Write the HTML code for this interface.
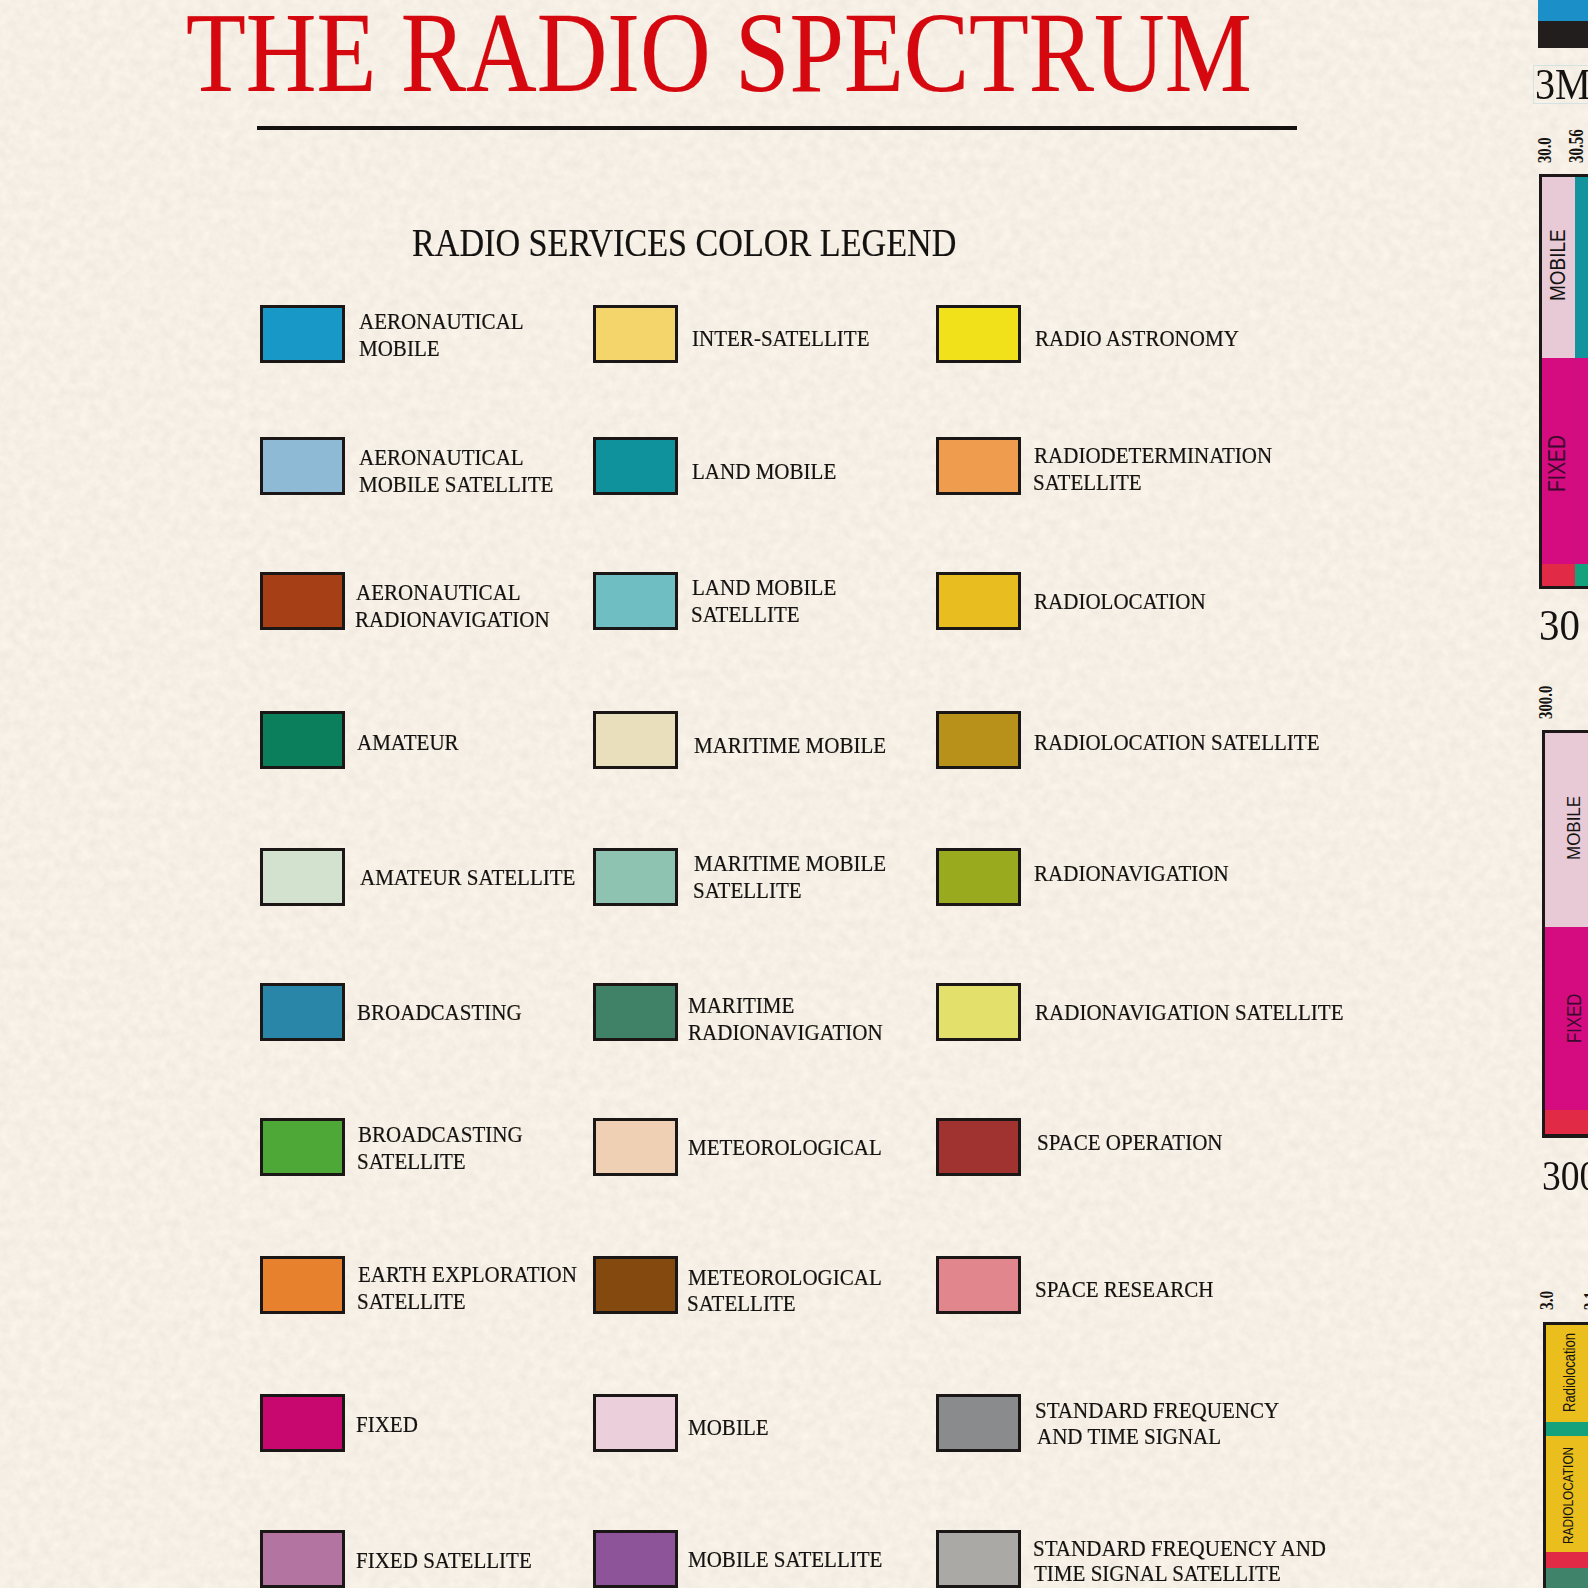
<!DOCTYPE html>
<html><head><meta charset="utf-8"><title>The Radio Spectrum</title>
<style>
html,body{margin:0;padding:0;}
body{width:1588px;height:1588px;overflow:hidden;position:relative;background:#f6efe5;font-family:"Liberation Serif",serif;}
.sw{position:absolute;width:85px;height:58px;box-sizing:border-box;border:3px solid #1a1716;}
.tex{position:absolute;left:0;top:0;pointer-events:none;}
.t{position:absolute;font-family:"Liberation Serif",serif;white-space:nowrap;transform-origin:0 0;-webkit-text-stroke:0.2px currentColor;}
</style></head><body>
<svg class="tex" width="1588" height="1588" viewBox="0 0 1588 1588"><filter id="pn" x="0" y="0" width="100%" height="100%" color-interpolation-filters="sRGB"><feTurbulence type="fractalNoise" baseFrequency="0.1" numOctaves="4" seed="7"/><feColorMatrix type="matrix" values="0.06 0 0 0 0.9347  0.06 0 0 0 0.9073  0.06 0 0 0 0.8680  0 0 0 0 1"/></filter><rect width="1588" height="1588" filter="url(#pn)"/></svg>
<div class="t" style="left:186.23px;top:-3.20px;font-size:113.8px;line-height:113.8px;color:#d4080e;transform:scaleX(0.86);">THE RADIO SPECTRUM</div>
<div style="position:absolute;left:257px;top:126px;width:1040px;height:4px;background:#141210"></div>
<div class="t" style="left:411.82px;top:222.89px;font-size:40.5px;line-height:40.5px;color:#141210;transform:scaleX(0.8427);">RADIO SERVICES COLOR LEGEND</div>
<div class="sw" style="left:260px;top:305px;background:#1798c6"></div>
<div class="t" style="left:359.39px;top:309.74px;font-size:23.0px;line-height:23.0px;color:#141210;transform:scaleX(0.914);">AERONAUTICAL</div>
<div class="t" style="left:358.99px;top:336.54px;font-size:23.0px;line-height:23.0px;color:#141210;transform:scaleX(0.914);">MOBILE</div>
<div class="sw" style="left:260px;top:437.3px;background:#8fbad6"></div>
<div class="t" style="left:359.09px;top:446.44px;font-size:23.0px;line-height:23.0px;color:#141210;transform:scaleX(0.914);">AERONAUTICAL</div>
<div class="t" style="left:358.69px;top:473.34px;font-size:23.0px;line-height:23.0px;color:#141210;transform:scaleX(0.914);">MOBILE SATELLITE</div>
<div class="sw" style="left:260px;top:572px;background:#a63f15"></div>
<div class="t" style="left:355.69px;top:580.94px;font-size:23.0px;line-height:23.0px;color:#141210;transform:scaleX(0.914);">AERONAUTICAL</div>
<div class="t" style="left:355.29px;top:607.84px;font-size:23.0px;line-height:23.0px;color:#141210;transform:scaleX(0.914);">RADIONAVIGATION</div>
<div class="sw" style="left:260px;top:711px;background:#0b7f5b"></div>
<div class="t" style="left:356.69px;top:731.04px;font-size:23.0px;line-height:23.0px;color:#141210;transform:scaleX(0.914);">AMATEUR</div>
<div class="sw" style="left:260px;top:848px;background:#d2e2cf"></div>
<div class="t" style="left:360.29px;top:865.84px;font-size:23.0px;line-height:23.0px;color:#141210;transform:scaleX(0.914);">AMATEUR SATELLITE</div>
<div class="sw" style="left:260px;top:982.8px;background:#2a86a8"></div>
<div class="t" style="left:357.09px;top:1001.14px;font-size:23.0px;line-height:23.0px;color:#141210;transform:scaleX(0.914);">BROADCASTING</div>
<div class="sw" style="left:260px;top:1117.7px;background:#4ea837"></div>
<div class="t" style="left:358.19px;top:1122.74px;font-size:23.0px;line-height:23.0px;color:#141210;transform:scaleX(0.914);">BROADCASTING</div>
<div class="t" style="left:357.39px;top:1149.84px;font-size:23.0px;line-height:23.0px;color:#141210;transform:scaleX(0.914);">SATELLITE</div>
<div class="sw" style="left:260px;top:1256.3px;background:#e7812e"></div>
<div class="t" style="left:358.09px;top:1263.24px;font-size:23.0px;line-height:23.0px;color:#141210;transform:scaleX(0.914);">EARTH EXPLORATION</div>
<div class="t" style="left:357.29px;top:1289.84px;font-size:23.0px;line-height:23.0px;color:#141210;transform:scaleX(0.914);">SATELLITE</div>
<div class="sw" style="left:260px;top:1393.5px;background:#c8086f"></div>
<div class="t" style="left:356.39px;top:1413.24px;font-size:23.0px;line-height:23.0px;color:#141210;transform:scaleX(0.914);">FIXED</div>
<div class="sw" style="left:260px;top:1529.7px;background:#b474a1"></div>
<div class="t" style="left:356.39px;top:1549.44px;font-size:23.0px;line-height:23.0px;color:#141210;transform:scaleX(0.914);">FIXED SATELLITE</div>
<div class="sw" style="left:592.5px;top:305px;background:#f3d56c"></div>
<div class="t" style="left:692.04px;top:326.94px;font-size:23.0px;line-height:23.0px;color:#141210;transform:scaleX(0.914);">INTER-SATELLITE</div>
<div class="sw" style="left:592.5px;top:437.3px;background:#0f929b"></div>
<div class="t" style="left:692.19px;top:460.04px;font-size:23.0px;line-height:23.0px;color:#141210;transform:scaleX(0.914);">LAND MOBILE</div>
<div class="sw" style="left:592.5px;top:572px;background:#6fbfc2"></div>
<div class="t" style="left:692.19px;top:576.24px;font-size:23.0px;line-height:23.0px;color:#141210;transform:scaleX(0.914);">LAND MOBILE</div>
<div class="t" style="left:691.39px;top:602.94px;font-size:23.0px;line-height:23.0px;color:#141210;transform:scaleX(0.914);">SATELLITE</div>
<div class="sw" style="left:592.5px;top:711px;background:#e9dfbc"></div>
<div class="t" style="left:693.99px;top:734.04px;font-size:23.0px;line-height:23.0px;color:#141210;transform:scaleX(0.914);">MARITIME MOBILE</div>
<div class="sw" style="left:592.5px;top:848px;background:#8ec2b1"></div>
<div class="t" style="left:693.99px;top:852.24px;font-size:23.0px;line-height:23.0px;color:#141210;transform:scaleX(0.914);">MARITIME MOBILE</div>
<div class="t" style="left:693.19px;top:879.34px;font-size:23.0px;line-height:23.0px;color:#141210;transform:scaleX(0.914);">SATELLITE</div>
<div class="sw" style="left:592.5px;top:982.8px;background:#3f8268"></div>
<div class="t" style="left:687.99px;top:994.04px;font-size:23.0px;line-height:23.0px;color:#141210;transform:scaleX(0.914);">MARITIME</div>
<div class="t" style="left:687.99px;top:1020.64px;font-size:23.0px;line-height:23.0px;color:#141210;transform:scaleX(0.914);">RADIONAVIGATION</div>
<div class="sw" style="left:592.5px;top:1117.7px;background:#f0d0b4"></div>
<div class="t" style="left:688.19px;top:1135.84px;font-size:23.0px;line-height:23.0px;color:#141210;transform:scaleX(0.914);">METEOROLOGICAL</div>
<div class="sw" style="left:592.5px;top:1256.3px;background:#83490f"></div>
<div class="t" style="left:688.19px;top:1265.64px;font-size:23.0px;line-height:23.0px;color:#141210;transform:scaleX(0.914);">METEOROLOGICAL</div>
<div class="t" style="left:687.39px;top:1292.44px;font-size:23.0px;line-height:23.0px;color:#141210;transform:scaleX(0.914);">SATELLITE</div>
<div class="sw" style="left:592.5px;top:1393.5px;background:#ebd0dc"></div>
<div class="t" style="left:688.19px;top:1416.04px;font-size:23.0px;line-height:23.0px;color:#141210;transform:scaleX(0.914);">MOBILE</div>
<div class="sw" style="left:592.5px;top:1529.7px;background:#8e5499"></div>
<div class="t" style="left:688.19px;top:1548.14px;font-size:23.0px;line-height:23.0px;color:#141210;transform:scaleX(0.914);">MOBILE SATELLITE</div>
<div class="sw" style="left:935.5px;top:305px;background:#f1e11a"></div>
<div class="t" style="left:1035.49px;top:326.94px;font-size:23.0px;line-height:23.0px;color:#141210;transform:scaleX(0.914);">RADIO ASTRONOMY</div>
<div class="sw" style="left:935.5px;top:437.3px;background:#ef9c4f"></div>
<div class="t" style="left:1033.99px;top:444.04px;font-size:23.0px;line-height:23.0px;color:#141210;transform:scaleX(0.914);">RADIODETERMINATION</div>
<div class="t" style="left:1033.19px;top:471.24px;font-size:23.0px;line-height:23.0px;color:#141210;transform:scaleX(0.914);">SATELLITE</div>
<div class="sw" style="left:935.5px;top:572px;background:#e8bd1f"></div>
<div class="t" style="left:1033.99px;top:589.64px;font-size:23.0px;line-height:23.0px;color:#141210;transform:scaleX(0.914);">RADIOLOCATION</div>
<div class="sw" style="left:935.5px;top:711px;background:#b8911a"></div>
<div class="t" style="left:1033.99px;top:730.84px;font-size:23.0px;line-height:23.0px;color:#141210;transform:scaleX(0.914);">RADIOLOCATION SATELLITE</div>
<div class="sw" style="left:935.5px;top:848px;background:#99aa1f"></div>
<div class="t" style="left:1033.99px;top:862.34px;font-size:23.0px;line-height:23.0px;color:#141210;transform:scaleX(0.914);">RADIONAVIGATION</div>
<div class="sw" style="left:935.5px;top:982.8px;background:#e3e06c"></div>
<div class="t" style="left:1035.49px;top:1001.04px;font-size:23.0px;line-height:23.0px;color:#141210;transform:scaleX(0.914);">RADIONAVIGATION SATELLITE</div>
<div class="sw" style="left:935.5px;top:1117.7px;background:#a0332f"></div>
<div class="t" style="left:1036.89px;top:1131.44px;font-size:23.0px;line-height:23.0px;color:#141210;transform:scaleX(0.914);">SPACE OPERATION</div>
<div class="sw" style="left:935.5px;top:1256.3px;background:#e0868c"></div>
<div class="t" style="left:1035.39px;top:1277.54px;font-size:23.0px;line-height:23.0px;color:#141210;transform:scaleX(0.914);">SPACE RESEARCH</div>
<div class="sw" style="left:935.5px;top:1393.5px;background:#898b8c"></div>
<div class="t" style="left:1035.39px;top:1398.94px;font-size:23.0px;line-height:23.0px;color:#141210;transform:scaleX(0.914);">STANDARD FREQUENCY</div>
<div class="t" style="left:1036.59px;top:1425.44px;font-size:23.0px;line-height:23.0px;color:#141210;transform:scaleX(0.914);">AND TIME SIGNAL</div>
<div class="sw" style="left:935.5px;top:1529.7px;background:#aaa9a6"></div>
<div class="t" style="left:1033.29px;top:1536.54px;font-size:23.0px;line-height:23.0px;color:#141210;transform:scaleX(0.914);">STANDARD FREQUENCY AND</div>
<div class="t" style="left:1034.32px;top:1562.44px;font-size:23.0px;line-height:23.0px;color:#141210;transform:scaleX(0.914);">TIME SIGNAL SATELLITE</div>
<div style="position:absolute;left:1538px;top:0px;width:50px;height:21px;background:#1b8fc7;"></div>
<div style="position:absolute;left:1538px;top:21px;width:50px;height:27px;background:#221e1d;"></div>
<div style="position:absolute;left:1532.5px;top:65px;width:70px;height:38.5px;box-sizing:border-box;border:1px solid #d3e3e3"></div>
<div style="position:absolute;left:1535.08px;top:62.63px;font:400 43.76px/43.76px 'Liberation Serif',serif;color:#151312;white-space:nowrap;transform:scaleX(0.9175);transform-origin:0 0">3M</div>
<div style="position:absolute;left:1534.85px;top:163.35px;font:700 19.43px/19.43px 'Liberation Serif',serif;color:#151312;white-space:nowrap;transform:rotate(-90deg) scaleX(0.7560);transform-origin:0 0">30.0</div>
<div style="position:absolute;left:1565.95px;top:163.46px;font:700 20.02px/20.02px 'Liberation Serif',serif;color:#151312;white-space:nowrap;transform:rotate(-90deg) scaleX(0.7481);transform-origin:0 0">30.56</div>
<div style="position:absolute;left:1539px;top:174px;width:61px;height:415px;background:#1c1817;"></div>
<div style="position:absolute;left:1542px;top:177px;width:33px;height:181px;background:#e8cad6;"></div>
<div style="position:absolute;left:1575px;top:177px;width:25px;height:181px;background:#12939d;"></div>
<div style="position:absolute;left:1542px;top:358px;width:58px;height:206px;background:#d50b80;"></div>
<div style="position:absolute;left:1574px;top:358px;width:1px;height:206px;background:#c31582;"></div>
<div style="position:absolute;left:1542px;top:564px;width:33px;height:22px;background:#e02a46;"></div>
<div style="position:absolute;left:1575px;top:564px;width:25px;height:22px;background:#13a27b;"></div>
<div style="position:absolute;left:1546.77px;top:301.26px;font:400 21.75px/21.75px 'Liberation Sans',sans-serif;color:#151312;white-space:nowrap;transform:rotate(-90deg) scaleX(0.8720);transform-origin:0 0">MOBILE</div>
<div style="position:absolute;left:1545.49px;top:492.19px;font:400 23.98px/23.98px 'Liberation Sans',sans-serif;color:#3a0a2c;white-space:nowrap;transform:rotate(-90deg) scaleX(0.8058);transform-origin:0 0">FIXED</div>
<div style="position:absolute;left:1538.64px;top:604.01px;font:400 44.01px/44.01px 'Liberation Serif',serif;color:#151312;white-space:nowrap;transform:scaleX(0.9296);transform-origin:0 0">30</div>
<div style="position:absolute;left:1535.52px;top:718.56px;font:700 19.58px/19.58px 'Liberation Serif',serif;color:#151312;white-space:nowrap;transform:rotate(-90deg) scaleX(0.7563);transform-origin:0 0">300.0</div>
<div style="position:absolute;left:1542px;top:730px;width:58px;height:408px;background:#1c1817;"></div>
<div style="position:absolute;left:1545px;top:733px;width:55px;height:194px;background:#e8cad6;"></div>
<div style="position:absolute;left:1545px;top:927px;width:55px;height:183px;background:#d50b80;"></div>
<div style="position:absolute;left:1545px;top:1110px;width:55px;height:24px;background:#e02a46;"></div>
<div style="position:absolute;left:1565.41px;top:860.39px;font:400 18.79px/18.79px 'Liberation Sans',sans-serif;color:#151312;white-space:nowrap;transform:rotate(-90deg) scaleX(0.9033);transform-origin:0 0">MOBILE</div>
<div style="position:absolute;left:1564.93px;top:1043.28px;font:400 19.33px/19.33px 'Liberation Sans',sans-serif;color:#3a0a2c;white-space:nowrap;transform:rotate(-90deg) scaleX(0.8692);transform-origin:0 0">FIXED</div>
<div style="position:absolute;left:1541.60px;top:1154.55px;font:400 42.09px/42.09px 'Liberation Serif',serif;color:#151312;white-space:nowrap;transform:scaleX(0.8940);transform-origin:0 0">300</div>
<div style="position:absolute;left:1537.20px;top:1309.68px;font:700 19.73px/19.73px 'Liberation Serif',serif;color:#151312;white-space:nowrap;transform:rotate(-90deg) scaleX(0.7812);transform-origin:0 0">3.0</div>
<div style="position:absolute;left:1581.33px;top:1309.65px;font:700 19.81px/19.81px 'Liberation Serif',serif;color:#151312;white-space:nowrap;transform:rotate(-90deg) scaleX(0.7436);transform-origin:0 0">3.1</div>
<div style="position:absolute;left:1543px;top:1322px;width:57px;height:278px;background:#1c1817;"></div>
<div style="position:absolute;left:1546px;top:1325px;width:54px;height:97px;background:#e9be1d;"></div>
<div style="position:absolute;left:1546px;top:1422px;width:54px;height:14px;background:#13a27b;"></div>
<div style="position:absolute;left:1546px;top:1436px;width:54px;height:116px;background:#e9be1d;"></div>
<div style="position:absolute;left:1546px;top:1552px;width:54px;height:16px;background:#e02a46;"></div>
<div style="position:absolute;left:1546px;top:1568px;width:54px;height:32px;background:#3f836a;"></div>
<div style="position:absolute;left:1561.39px;top:1412.17px;font:400 16.48px/16.48px 'Liberation Sans',sans-serif;color:#151312;white-space:nowrap;transform:rotate(-90deg) scaleX(0.7914);transform-origin:0 0">Radiolocation</div>
<div style="position:absolute;left:1561.20px;top:1543.97px;font:400 14.83px/14.83px 'Liberation Sans',sans-serif;color:#151312;white-space:nowrap;transform:rotate(-90deg) scaleX(0.7985);transform-origin:0 0">RADIOLOCATION</div>

</body></html>
